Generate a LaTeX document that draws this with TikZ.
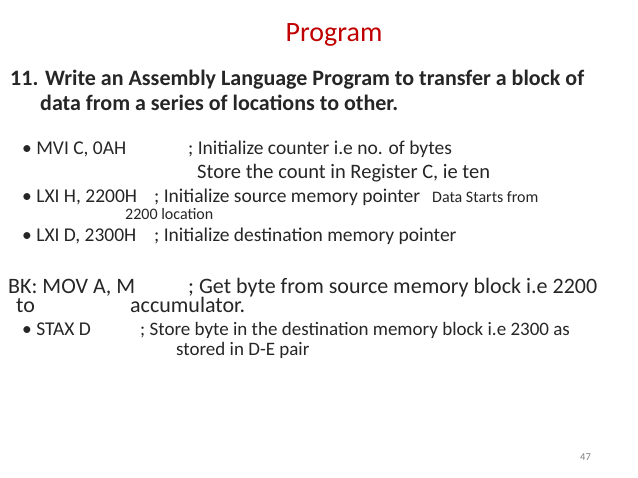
\documentclass[tikz,border=0pt]{standalone}
\usepackage{fontspec}
\setmainfont{Carlito}
\definecolor{titlered}{RGB}{192,0,0}
\definecolor{txt}{RGB}{38,38,38}
\begin{document}
\begin{tikzpicture}[x=1pt,y=-1pt,
  t/.style={anchor=base west,inner sep=0pt,text=txt},
  big/.style={t,font=\fontsize{22}{24}\selectfont},
  mid/.style={t,font=\fontsize{19.5}{21}\selectfont},
  sml/.style={t,font=\fontsize{16}{18}\selectfont}]
\useasboundingbox[fill=white] (0,0) rectangle (638,478);
\node[anchor=base,inner sep=0pt,text=titlered,font=\fontsize{28}{30}\selectfont] (title) at (334,42) {Program};
\node[t,font=\bfseries\fontsize{22}{24}\selectfont] (q1) at (10,86) {11. Write an Assembly Language Program to transfer a block of};
\node[t,font=\bfseries\fontsize{22}{24}\selectfont] (q2) at (40,111) {data from a series of locations to other.};
\node[mid] (b1) at (22,155) {• MVI C, 0AH};
\node[mid] (c1) at (188,155) {; Initialize counter i.e no. of bytes};
\node[t,font=\fontsize{20.5}{22}\selectfont] (s1) at (197,179) {Store the count in Register C, ie ten};
\node[mid] (b2) at (22,203) {• LXI H, 2200H};
\node[mid] (c2) at (154,203) {; Initialize source memory pointer};
\node[sml] (d2) at (432,203) {Data Starts from};
\node[sml] (d3) at (125,220) {2200 location};
\node[mid] (b3) at (22,242) {• LXI D, 2300H};
\node[mid] (c3) at (154,242) {; Initialize destination memory pointer};
\node[big] (bk) at (8,294) {BK: MOV A, M};
\node[big] (bkc) at (188,294) {; Get byte from source memory block i.e 2200};
\node[big] (to) at (16,313) {to};
\node[big] (acc) at (130,313) {accumulator.};
\node[mid] (b4) at (22,336) {• STAX D};
\node[t,font=\fontsize{19}{21}\selectfont] (c4) at (140,336) {; Store byte in the destination memory block i.e 2300 as};
\node[t,font=\fontsize{19}{21}\selectfont] (c5) at (176,356) {stored in D-E pair};
\node[anchor=base west,inner sep=0pt,text=gray,font=\fontsize{10.5}{12}\selectfont] (pg) at (580,461) {47};
\end{tikzpicture}
\end{document}
